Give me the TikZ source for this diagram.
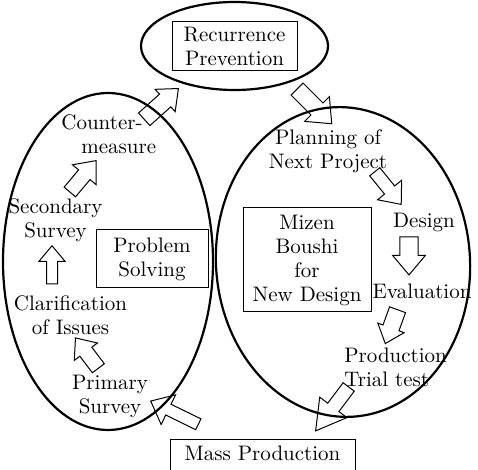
\documentclass[tikz,border=0pt]{standalone}
\usetikzlibrary{shapes.geometric, shapes.arrows}

\begin{document}
\begin{tikzpicture}[
			x = 0.5pt, y = -0.5pt,
			stage/.style = {font = \fontsize{10.5}{12}\selectfont, align = center, inner sep = 0pt},
			box/.style = {draw, rectangle, line width = 0.5pt, inner sep = 1pt, font = \fontsize{10.5}{12}\selectfont, align = center},
			ring/.style = {line width = 1.1pt},
			blockarrow/.style = {draw, single arrow, line width = 0.5pt, inner xsep = 0pt, inner ysep = 3.5pt,
				single arrow head extend = 4pt, single arrow tip angle = 80, anchor = tip}]
			\clip (0,0) rectangle (478,470);

			% the three loops
			\draw[ring] (234.5,46) ellipse [x radius = 93.5, y radius = 44];
			\draw[ring] (108,261.5) ellipse [x radius = 105, y radius = 168.5];
			\draw[ring, rotate around = {4:(343,262)}] (343,262) ellipse [x radius = 127, y radius = 155];

			% boxes
			\node[box, minimum width = 62.5pt, minimum height = 24.5pt] (recurrence) at (234.5,46.5) {Recurrence\\Prevention};
			\node[box, minimum width = 56pt, minimum height = 29pt] (problem) at (152,259) {Problem\\Solving};
			\node[box, minimum width = 64pt, minimum height = 52pt] (mizen) at (307,260) {Mizen\\Boushi\\for\\New Design};
			\node[box, anchor = north, minimum width = 92.5pt, inner ysep = 3pt, text depth = 14pt] (mass) at (262.5,439) {Mass Production};

			% Labels
			\node[stage, align = left, anchor = west] (counter) at (61,134) {Counter-\\\hspace*{10pt}measure};
			\node[stage] (secondary) at (55.5,220) {Secondary\\Survey};
			\node[stage] (clarification) at (70.5,315) {Clarification\\of Issues};
			\node[stage] (primary) at (110,396) {Primary\\Survey};
			\node[stage] (planning) at (328,151) {Planning of\\Next Project};
			\node[stage] (design) at (424,222) {Design};
			\node[stage] (evaluation) at (422,291) {Evaluation};
			\node[stage, align = left, anchor = west] (production) at (344,367.5) {Production\\Trial test};

			% block arrows
			\node[blockarrow, rotate = 50, minimum height = 20.5pt] (a1) at (96.7,160) {};
			\node[blockarrow, rotate = 42, minimum height = 23pt, inner ysep = 4pt, single arrow head extend = 3.25pt] (a2) at (179,88) {};
			\node[blockarrow, rotate = -45, minimum height = 24.5pt, inner ysep = 4pt, single arrow head extend = 4.5pt] (a3) at (332.3,124.3) {};
			\node[blockarrow, rotate = -51, minimum height = 21pt, inner ysep = 3pt, single arrow head extend = 4.5pt] (a4) at (401.7,205) {};
			\node[blockarrow, rotate = -90, minimum height = 19pt, inner ysep = 4.3pt, single arrow head extend = 3.7pt] (a5) at (409,275.7) {};
			\node[blockarrow, rotate = -110, minimum height = 18pt, inner ysep = 4pt, single arrow head extend = 2.75pt] (a6) at (385,344.3) {};
			\node[blockarrow, rotate = -127, minimum height = 27.5pt, inner ysep = 3.25pt,
				single arrow head extend = 5pt, single arrow tip angle = 60] (a7) at (315,431.7) {};
			\node[blockarrow, rotate = 154, minimum height = 26.5pt, inner ysep = 2.75pt, single arrow head extend = 5.25pt] (a8) at (150,400.7) {};
			\node[blockarrow, rotate = 127, minimum height = 19pt, single arrow head extend = 3.5pt] (a9) at (75,337.3) {};
			\node[blockarrow, rotate = 90, minimum height = 19pt, inner ysep = 2.5pt,
				single arrow head extend = 3.75pt] (a10) at (52,245) {};
		\end{tikzpicture}
\end{document}
